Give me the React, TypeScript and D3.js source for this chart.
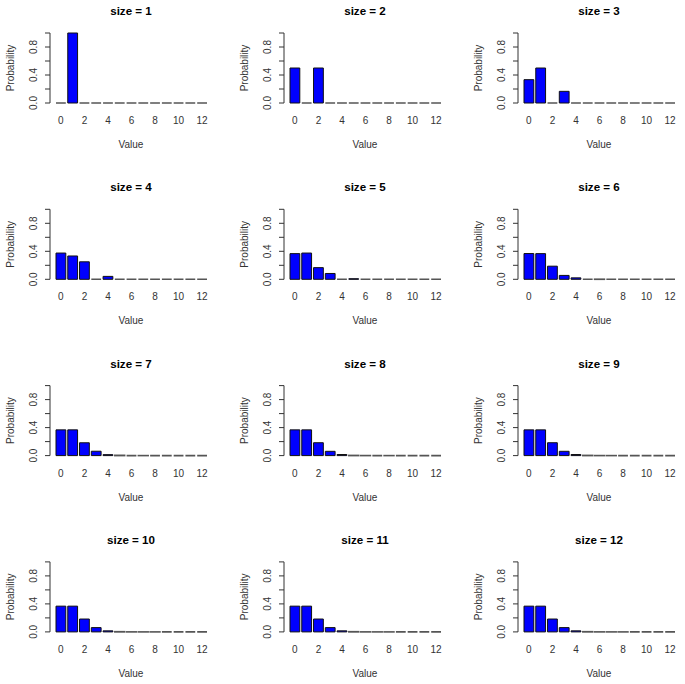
import React from "react";
import * as d3 from "d3";

const sizes = [1, 2, 3, 4, 5, 6, 7, 8, 9, 10, 11, 12];
const values = [0, 1, 2, 3, 4, 5, 6, 7, 8, 9, 10, 11, 12];
const xTickLabels = ["0", "2", "4", "6", "8", "10", "12"];
const yTicks = [0, 0.2, 0.4, 0.6, 0.8, 1.0];
const yTickLabels = ["0.0", "0.4", "0.8"];

const p1 = [0, 1, 0, 0, 0, 0, 0, 0, 0, 0, 0, 0, 0];
const p2 = [0.5, 0, 0.5, 0, 0, 0, 0, 0, 0, 0, 0, 0, 0];
const p3 = [0.3333, 0.5, 0, 0.1667, 0, 0, 0, 0, 0, 0, 0, 0, 0];
const p4 = [0.375, 0.3333, 0.25, 0, 0.0417, 0, 0, 0, 0, 0, 0, 0, 0];
const p5 = [0.3667, 0.375, 0.1667, 0.0833, 0, 0.0083, 0, 0, 0, 0, 0, 0, 0];
const p6 = [0.3681, 0.3667, 0.1875, 0.0556, 0.0208, 0, 0.0014, 0, 0, 0, 0, 0, 0];
const p7 = [0.3679, 0.3681, 0.1833, 0.0625, 0.0139, 0.0042, 0, 0.0002, 0, 0, 0, 0, 0];
const p8 = [0.3679, 0.3679, 0.184, 0.0611, 0.0156, 0.0028, 0.0007, 0, 0.00002, 0, 0, 0, 0];
const p9 = [0.3679, 0.3679, 0.1839, 0.0613, 0.0153, 0.0031, 0.0005, 0.0001, 0, 0, 0, 0, 0];
const p10 = [0.3679, 0.3679, 0.1839, 0.0613, 0.0153, 0.0031, 0.0005, 0.0001, 0.00001, 0, 0, 0, 0];
const p11 = [0.3679, 0.3679, 0.1839, 0.0613, 0.0153, 0.0031, 0.0005, 0.0001, 0.00001, 0, 0, 0, 0];
const p12 = [0.3679, 0.3679, 0.1839, 0.0613, 0.0153, 0.0031, 0.0005, 0.0001, 0.00001, 0, 0, 0, 0];
const probs = [p1, p2, p3, p4, p5, p6, p7, p8, p9, p10, p11, p12];

const W = 685;
const H = 684;
const colStep = 234;
const rowStep = 176.3;
const font = "'Liberation Sans', Arial, Helvetica, sans-serif";

function Panel({ idx }: { idx: number }) {
  const c = idx % 3;
  const r = Math.floor(idx / 3);
  const axisX = 50 + c * colStep;
  const zeroY = 103 + r * rowStep;
  const x = d3
    .scaleBand<number>()
    .domain(values)
    .range([axisX + 6, axisX + 157])
    .paddingInner(1 / 6)
    .paddingOuter(0);
  const y = d3.scaleLinear().domain([0, 1]).range([zeroY, zeroY - 70]);
  const data = probs[idx];
  const bw = x.bandwidth();
  return (
    <g>
      <text
        x={axisX + 81}
        y={15 + r * rowStep}
        textAnchor="middle"
        fontWeight="bold"
        fontSize={11.6}
        fill="#000"
      >
        {`size = ${sizes[idx]}`}
      </text>
      {data.map((v, i) => {
        const x0 = x(values[i])!;
        const yt = y(v);
        const d = `M${x0},${zeroY}V${yt}H${x0 + bw}V${zeroY}Z`;
        return (
          <path
            key={i}
            d={d}
            fill="#0000FF"
            stroke={v > 0.005 ? "#111" : "#555"}
            strokeWidth={v > 0.005 ? 1 : 1.6}
          />
        );
      })}
      <line x1={axisX} x2={axisX} y1={y(0)} y2={y(1)} stroke="#333" strokeWidth={1} />
      {yTicks.map((t) => (
        <line key={t} x1={axisX - 5} x2={axisX} y1={y(t)} y2={y(t)} stroke="#333" strokeWidth={1} />
      ))}
      {yTickLabels.map((l) => (
        <text
          key={l}
          transform={`translate(${axisX - 13},${y(+l)}) rotate(-90)`}
          textAnchor="middle"
          fontSize={10}
          fill="#333"
        >
          {l}
        </text>
      ))}
      {xTickLabels.map((l) => (
        <text
          key={l}
          x={x(+l)! + bw / 2}
          y={zeroY + 21}
          textAnchor="middle"
          fontSize={10}
          fill="#333"
        >
          {l}
        </text>
      ))}
      <text x={axisX + 81} y={zeroY + 45} textAnchor="middle" fontSize={10} fill="#333">
        Value
      </text>
      <text
        transform={`translate(${axisX - 36},${zeroY - 35}) rotate(-90)`}
        textAnchor="middle"
        fontSize={10}
        fill="#333"
      >
        Probability
      </text>
    </g>
  );
}

export default function App() {
  return (
    <svg
      width={W}
      height={H}
      style={{ position: "absolute", left: 0, top: 0, background: "#fff", fontFamily: font }}
      fontFamily={font}
    >
      <rect width={W} height={H} fill="#fff" />
      {sizes.map((_, i) => (
        <Panel key={i} idx={i} />
      ))}
    </svg>
  );
}
